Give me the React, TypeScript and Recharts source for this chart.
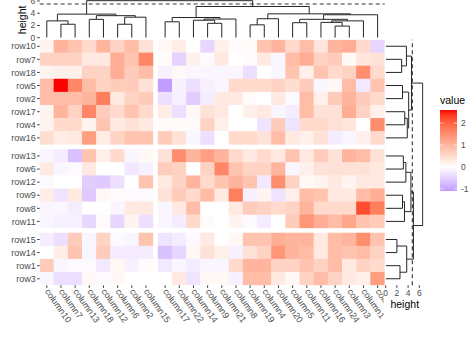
import { ScatterChart, Scatter, XAxis, YAxis, ReferenceLine, Legend } from "recharts";

const colOrder = [
  "column10", "column7", "column13", "column18", "column12", "column6", "column2", "column15",
  "column17", "column22", "column14", "column9", "column21", "column8", "column19", "column4",
  "column20", "column5", "column11", "column16", "column24", "column3", "column1", "column23",
];
const rowOrder = [
  "row10", "row7", "row18", "row5", "row2", "row17", "row4", "row16",
  "row13", "row6", "row12", "row9", "row8", "row11",
  "row15", "row14", "row1", "row3",
];
const colSlices = [8];
const rowSlices = [8, 14];

// one line per row, columns in display order
const heat = [
  [0.15, 1.0, 0.8, 0.5, 1.0, 0.6, 0.9, 0.4, 0.1, 0.25, 0.0, -0.45, 0.2, 0.05, 0.05, 0.8, 1.0, 0.5, 0.9, 0.35, 1.0, 1.1, 0.5, -0.45],
  [0.6, 0.6, 0.6, 0.3, 0.3, 1.1, 0.8, 1.6, 0.05, -0.5, 0.2, -0.05, 0.3, 0.0, 0.05, 0.3, -0.1, 0.9, 1.1, 0.6, 0.7, 0.1, 0.35, 0.4],
  [0.15, 0.2, 0.2, 0.6, 0.6, 1.1, 0.7, 0.9, -0.15, 0.1, -0.1, -0.1, -0.1, -0.1, -0.35, 0.0, -0.1, 0.8, 0.2, 0.8, 0.5, 0.6, 1.5, 0.5],
  [0.9, 2.6, 1.6, 0.9, 0.6, 0.7, 0.7, 0.4, -1.1, -0.15, -0.35, -0.15, -0.1, 0.5, 0.5, 0.5, 0.6, 0.45, 0.7, -0.1, 0.1, 0.9, -0.25, 0.8],
  [0.9, 0.9, 0.9, 1.0, 1.7, 0.3, 0.6, 0.7, -0.35, -0.15, -0.55, -0.2, 0.3, 0.3, 0.05, 0.0, 0.3, -0.05, 0.9, 0.2, 0.7, 1.0, 0.7, 0.5],
  [0.15, 1.0, 0.6, 1.6, 0.7, 0.5, 0.8, 0.5, 0.25, -0.35, 0.1, 0.4, 0.3, 0.0, 0.2, 0.3, -0.1, -0.2, 0.9, 0.4, 0.4, 1.1, 0.6, 0.2],
  [0.15, 0.5, 0.5, 0.15, 0.8, 0.3, 0.4, 0.3, 0.05, 0.05, 0.05, 0.6, 0.2, 0.0, 0.0, -0.3, 0.7, -0.3, 0.5, 0.5, 0.4, 0.35, 0.0, 1.5],
  [0.45, 0.25, 0.3, 1.3, 0.25, 0.6, 0.8, 0.8, 0.7, 0.4, -0.1, -0.35, 0.0, 0.5, 0.5, 0.4, 0.9, 0.3, 0.2, 0.4, -0.2, -0.1, 0.2, 0.5],
  [-0.1, -0.2, -0.7, 0.8, 0.2, 0.5, -0.1, 0.1, 0.4, 1.5, 1.0, 1.3, 1.0, 0.5, 0.3, 0.5, 0.3, 0.8, 0.3, 0.7, 0.4, 1.0, 0.9, 0.4],
  [0.3, -0.1, -0.05, 0.3, 0.0, 0.0, -0.25, -0.15, 0.7, 0.6, 0.0, 0.6, 1.6, 0.8, 0.6, 0.6, 1.0, -0.1, 0.2, 0.4, 0.4, 0.4, 0.4, 0.3],
  [-0.05, 0.0, 0.0, -0.55, -0.6, -0.35, 0.0, 0.8, 0.3, 0.6, 1.0, 0.5, 0.8, 1.0, 0.8, -0.25, 1.5, 0.6, 0.1, 0.15, 0.3, 0.15, 0.3, 0.3],
  [0.25, -0.3, 0.3, -0.6, 0.1, 0.05, -0.05, -0.05, 0.4, 0.7, 0.5, 0.9, 0.3, 1.7, -0.15, 0.15, -0.3, 0.2, 0.9, 0.8, 0.3, 0.3, 0.9, 1.1],
  [-0.1, -0.1, -0.2, 0.0, 0.0, -0.1, 0.3, 0.3, -0.1, 0.3, 0.9, 0.0, 0.0, 0.3, 0.7, 0.6, 0.5, 0.6, 1.0, 0.5, 0.5, 0.5, 2.2, 1.7],
  [-0.1, -0.15, -0.15, -0.45, 0.05, -0.45, 0.15, -0.35, -0.1, -0.2, 0.5, 0.05, 0.0, 0.15, -0.05, -0.2, 0.0, 0.7, 1.4, 1.1, 0.9, 1.2, 0.8, 0.7],
  [-0.2, -0.35, 0.7, -0.1, 0.6, -0.05, -0.1, 0.8, -0.3, -0.2, -0.05, 0.3, 0.0, 0.1, 0.8, 0.8, 1.1, 1.0, 1.0, 0.3, 0.9, 1.0, 1.5, 0.8],
  [0.0, 0.25, 0.8, -0.1, 0.7, -0.2, -0.2, -0.2, -0.7, -0.45, 0.1, 0.4, 0.2, -0.15, 0.4, 0.6, 1.4, 1.0, 0.9, 0.3, 0.9, 0.8, 0.9, 0.6],
  [0.7, -0.1, -0.05, -0.05, -0.25, 0.1, -0.15, 0.05, -0.25, -0.1, -0.2, -0.1, -0.1, 0.5, 1.0, 1.0, 0.6, 0.6, 0.8, 0.6, 0.9, 0.3, 0.6, 0.5],
  [-0.1, -0.35, -0.35, 0.1, -0.05, 0.1, 0.0, 0.0, 0.0, 0.3, -0.3, 0.1, 0.1, -0.15, 0.9, 0.9, 0.3, 0.1, 0.6, 0.9, 0.6, 0.3, 0.2, 1.3],
];

// [left, right, height]; "m<i>" refers to the i-th merge of the same list
type Merge = [string, string, number];
const colMerges: Merge[] = [
  ["column7", "column13", 2.2], ["column10", "m0", 2.75], ["column18", "column12", 3.0],
  ["column6", "column2", 2.2], ["m3", "column15", 3.35], ["m2", "m4", 3.6], ["m1", "m5", 3.85],
  ["column17", "column22", 2.6], ["column9", "column21", 2.35], ["column14", "m8", 2.85],
  ["m9", "column8", 3.05], ["m7", "m10", 3.3],
  ["column19", "column4", 2.1], ["m12", "column20", 3.1], ["column5", "column11", 2.45],
  ["column24", "column3", 1.9], ["column16", "m15", 2.5], ["m16", "column1", 2.75],
  ["m14", "m17", 3.0], ["m18", "column23", 3.75], ["m13", "m19", 3.9],
  ["m11", "m20", 5.1], ["m6", "m21", 6.05],
];
const rowMerges: Merge[] = [
  ["row7", "row18", 2.85], ["row10", "m0", 3.7], ["row5", "row2", 3.0], ["row17", "row4", 3.4],
  ["m3", "row16", 3.85], ["m2", "m4", 4.1], ["m1", "m5", 4.6],
  ["row13", "row6", 3.15], ["m7", "row12", 3.6], ["row9", "row8", 3.0], ["m9", "row11", 3.35],
  ["m8", "m10", 4.5], ["row15", "row14", 2.0], ["row1", "row3", 2.55], ["m12", "m13", 3.75],
  ["m11", "m14", 4.95], ["m6", "m15", 6.6],
];
const colCut = 5.5;
const rowCut = 4.75;
const heightTicks = [0, 2, 4, 6];
const legendTicks = [2, 1, 0, -1];

const COL_GAP = 0.353;
const ROW_GAP = 0.38;
const colPos = colOrder.map((_, i) => i + colSlices.filter((s) => i >= s).length * COL_GAP);
const rowPos = rowOrder.map((_, i) => i + rowSlices.filter((s) => i >= s).length * ROW_GAP);
const X_DOMAIN: [number, number] = [-0.5, colPos[colPos.length - 1] + 0.5];
const Y_DOMAIN: [number, number] = [-0.5, rowPos[rowPos.length - 1] + 0.5];

const W = 474;
const H = 338;
const PL = 39.7;
const PT = 39.7;
const PR = 384.7;
const PB = 285.3;
const TOP_H = 48;
const TOP_ZERO = 37.7;
const CELL_W = (PR - PL) / (X_DOMAIN[1] - X_DOMAIN[0]);
const CELL_H = (PB - PT) / (Y_DOMAIN[1] - Y_DOMAIN[0]);
const FONT = "'Liberation Sans', Arial, sans-serif";
const LINE = "#262626";

// ggplot-like gradient2 (blue / white / red) interpolated in Lab
const lin = (c: number) => { c /= 255; return c <= 0.04045 ? c / 12.92 : ((c + 0.055) / 1.055) ** 2.4; };
const gam = (c: number) => {
  const v = c <= 0.0031308 ? 12.92 * c : 1.055 * c ** (1 / 2.4) - 0.055;
  return Math.round(Math.max(0, Math.min(1, v)) * 255);
};
function toLab([r, g, b]: number[]) {
  const R = lin(r), G = lin(g), B = lin(b);
  const X = (0.4124 * R + 0.3576 * G + 0.1805 * B) / 0.95047;
  const Y = 0.2126 * R + 0.7152 * G + 0.0722 * B;
  const Z = (0.0193 * R + 0.1192 * G + 0.9505 * B) / 1.08883;
  const f = (t: number) => (t > 0.008856 ? Math.cbrt(t) : 7.787 * t + 16 / 116);
  return [116 * f(Y) - 16, 500 * (f(X) - f(Y)), 200 * (f(Y) - f(Z))];
}
function fromLab([L, a, b]: number[]) {
  const fy = (L + 16) / 116, fx = fy + a / 500, fz = fy - b / 200;
  const fi = (t: number) => (t ** 3 > 0.008856 ? t ** 3 : (t - 16 / 116) / 7.787);
  const X = fi(fx) * 0.95047, Y = fi(fy), Z = fi(fz) * 1.08883;
  const r = gam(3.2406 * X - 1.5372 * Y - 0.4986 * Z);
  const g = gam(-0.9689 * X + 1.8758 * Y + 0.0415 * Z);
  const bb = gam(0.0557 * X - 0.204 * Y + 1.057 * Z);
  return `rgb(${r},${g},${bb})`;
}
const LAB_BLUE = toLab([0, 0, 255]);
const LAB_WHITE = toLab([255, 255, 255]);
const LAB_RED = toLab([255, 0, 0]);
const all = heat.flat();
const vMin = Math.min(...all);
const vMax = Math.max(...all);
const vAbs = Math.max(Math.abs(vMin), Math.abs(vMax));
function fillFor(v: number) {
  const k = Math.min(1, Math.abs(v) / vAbs);
  const end = v >= 0 ? LAB_RED : LAB_BLUE;
  return fromLab(LAB_WHITE.map((c, i) => c + (end[i] - c) * k));
}

const cells = heat.flatMap((row, r) =>
  row.map((v, c) => ({ x: colPos[c], y: rowPos[r], v, fill: fillFor(v) }))
);

function dendro(merges: Merge[], leafPos: Record<string, number>) {
  const pos: Record<string, number> = { ...leafPos };
  const hgt: Record<string, number> = {};
  return merges.map(([a, b, h], i) => {
    const pa = pos[a], pb = pos[b];
    const ha = hgt[a] ?? 0, hb = hgt[b] ?? 0;
    pos["m" + i] = (pa + pb) / 2;
    hgt["m" + i] = h;
    return [ { p: pa, h: ha }, { p: pa, h }, { p: pb, h }, { p: pb, h: hb } ];
  });
}
const colLinks = dendro(colMerges, Object.fromEntries(colOrder.map((n, i) => [n, colPos[i]])));
const rowLinks = dendro(rowMerges, Object.fromEntries(rowOrder.map((n, i) => [n, rowPos[i]])));

const noDot = () => <g />;

const ColTick = (props: any) => {
  const { x, y, payload } = props;
  const name = colOrder[colPos.indexOf(payload.value)];
  return (
    <g clipPath="url(#colLabelClip)">
      <text x={x} y={y} dy="0.32em" transform={`rotate(55 ${x} ${y})`} textAnchor="start" fontSize={9} fill="#4d4d4d" fontFamily={FONT}>
        {name}
      </text>
    </g>
  );
};

const LEG_H = 81;
const LEG_W = 17;
const ValueLegend = () => {
  const yOf = (v: number) => 18 + ((vMax - v) / (vMax - vMin)) * LEG_H;
  const stops = Array.from({ length: 21 }, (_, i) => vMax - ((vMax - vMin) * i) / 20);
  return (
    <svg width={40} height={110} style={{ display: "block", overflow: "visible" }}>
      <defs>
        <linearGradient id="valueBar" x1="0" y1="0" x2="0" y2="1">
          {stops.map((v, i) => (
            <stop key={i} offset={`${(i / 20) * 100}%`} stopColor={fillFor(v)} />
          ))}
        </linearGradient>
      </defs>
      <text x={0} y={8} dy="0.35em" fontSize={10.5} fill="#000" fontFamily={FONT}>value</text>
      <rect x={0} y={18} width={LEG_W} height={LEG_H} fill="url(#valueBar)" />
      {legendTicks.map((t) => (
        <g key={t}>
          <line x1={0} x2={3.4} y1={yOf(t)} y2={yOf(t)} stroke="#fff" strokeWidth={0.6} />
          <line x1={LEG_W - 3.4} x2={LEG_W} y1={yOf(t)} y2={yOf(t)} stroke="#fff" strokeWidth={0.6} />
          <text x={LEG_W + 4} y={yOf(t)} dy="0.35em" fontSize={8.5} fill="#4d4d4d" fontFamily={FONT}>{t}</text>
        </g>
      ))}
    </svg>
  );
};

export default function App() {
  return (
    <div style={{ position: "absolute", left: 0, top: 0, width: W, height: H, background: "#fff", fontFamily: FONT }}>
      <div style={{ position: "absolute", left: 0, top: 0 }}>
        <ScatterChart width={W} height={H} margin={{ top: PT, right: W - PR, bottom: 0, left: 0 }}>
          <defs>
            <clipPath id="colLabelClip">
              <rect x={0} y={0} width={383.5} height={H} />
            </clipPath>
          </defs>
          <XAxis
            type="number"
            dataKey="x"
            domain={X_DOMAIN}
            ticks={colPos}
            interval={0}
            height={H - PB}
            axisLine={false}
            tickSize={2.5}
            tickMargin={2}
            tickLine={{ stroke: "#333" }}
            tick={<ColTick />}
            allowDataOverflow
          />
          <YAxis
            type="number"
            dataKey="y"
            reversed
            domain={Y_DOMAIN}
            ticks={rowPos}
            interval={0}
            width={PL}
            axisLine={false}
            tickSize={2.5}
            tickMargin={1.5}
            tickLine={{ stroke: "#333" }}
            tick={{ fontSize: 9, fill: "#4d4d4d", fontFamily: FONT }}
            tickFormatter={(v) => rowOrder[rowPos.indexOf(v)]}
            allowDataOverflow
          />
          <Scatter
            data={cells}
            isAnimationActive={false}
            shape={(p: any) => (
              <rect x={p.cx - CELL_W / 2 - 0.2} y={p.cy - CELL_H / 2 - 0.2} width={CELL_W + 0.4} height={CELL_H + 0.4} fill={p.payload.fill} />
            )}
          />
        </ScatterChart>
      </div>

      <div style={{ position: "absolute", left: 0, top: 0 }}>
        <ScatterChart width={W} height={TOP_H} margin={{ top: 0, right: W - PR, bottom: TOP_H - TOP_ZERO, left: 0 }}>
          <XAxis type="number" dataKey="x" domain={X_DOMAIN} hide allowDataOverflow />
          <YAxis
            type="number"
            dataKey="y"
            domain={[0, 6.16]}
            ticks={heightTicks}
            interval={0}
            width={PL}
            axisLine={false}
            tickSize={2.5}
            tickMargin={2}
            tickLine={{ stroke: "#333" }}
            tick={{ fontSize: 8.5, fill: "#4d4d4d", fontFamily: FONT }}
            allowDataOverflow
            label={{
              content: ({ viewBox }: any) => {
                const cx = viewBox.x + viewBox.width / 2 + 2;
                const cy = viewBox.y + viewBox.height / 2 + 1;
                return (
                  <text x={cx} y={cy} transform={`rotate(-90 ${cx} ${cy})`} textAnchor="middle" dominantBaseline="central" fontSize={10.5} fill="#000" fontFamily={FONT}>
                    height
                  </text>
                );
              },
            }}
          />
          <ReferenceLine y={colCut} stroke="#333" strokeWidth={1.1} strokeDasharray="4 3" />
          {colLinks.map((seg, i) => (
            <Scatter
              key={i}
              data={seg.map((s) => ({ x: s.p, y: s.h }))}
              fill={LINE}
              line={{ stroke: LINE, strokeWidth: 1 }}
              shape={noDot}
              isAnimationActive={false}
            />
          ))}
        </ScatterChart>
      </div>

      <div style={{ position: "absolute", left: 0, top: 0 }}>
        <ScatterChart width={W} height={H} margin={{ top: PT, right: W - 423.8, bottom: 0, left: 385.7 }}>
          <XAxis
            type="number"
            dataKey="x"
            domain={[0, 6.8]}
            ticks={heightTicks}
            interval={0}
            height={H - PB}
            axisLine={false}
            tickSize={2.5}
            tickMargin={2}
            tickLine={{ stroke: "#333" }}
            tick={{ fontSize: 8.5, fill: "#4d4d4d", fontFamily: FONT }}
            allowDataOverflow
            label={{ value: "height", position: "insideTop", offset: 15, fontSize: 10.5, fill: "#000", fontFamily: FONT }}
          />
          <YAxis type="number" dataKey="y" reversed domain={Y_DOMAIN} hide allowDataOverflow />
          <ReferenceLine x={rowCut} stroke="#333" strokeWidth={1.1} strokeDasharray="4 3" />
          {rowLinks.map((seg, i) => (
            <Scatter
              key={i}
              data={seg.map((s) => ({ x: s.h, y: s.p }))}
              fill={LINE}
              line={{ stroke: LINE, strokeWidth: 1 }}
              shape={noDot}
              isAnimationActive={false}
            />
          ))}
          <Legend
            layout="vertical"
            align="center"
            verticalAlign="middle"
            wrapperStyle={{ left: 440, top: 92, width: 40, height: 110 }}
            content={() => <ValueLegend />}
          />
        </ScatterChart>
      </div>
    </div>
  );
}
